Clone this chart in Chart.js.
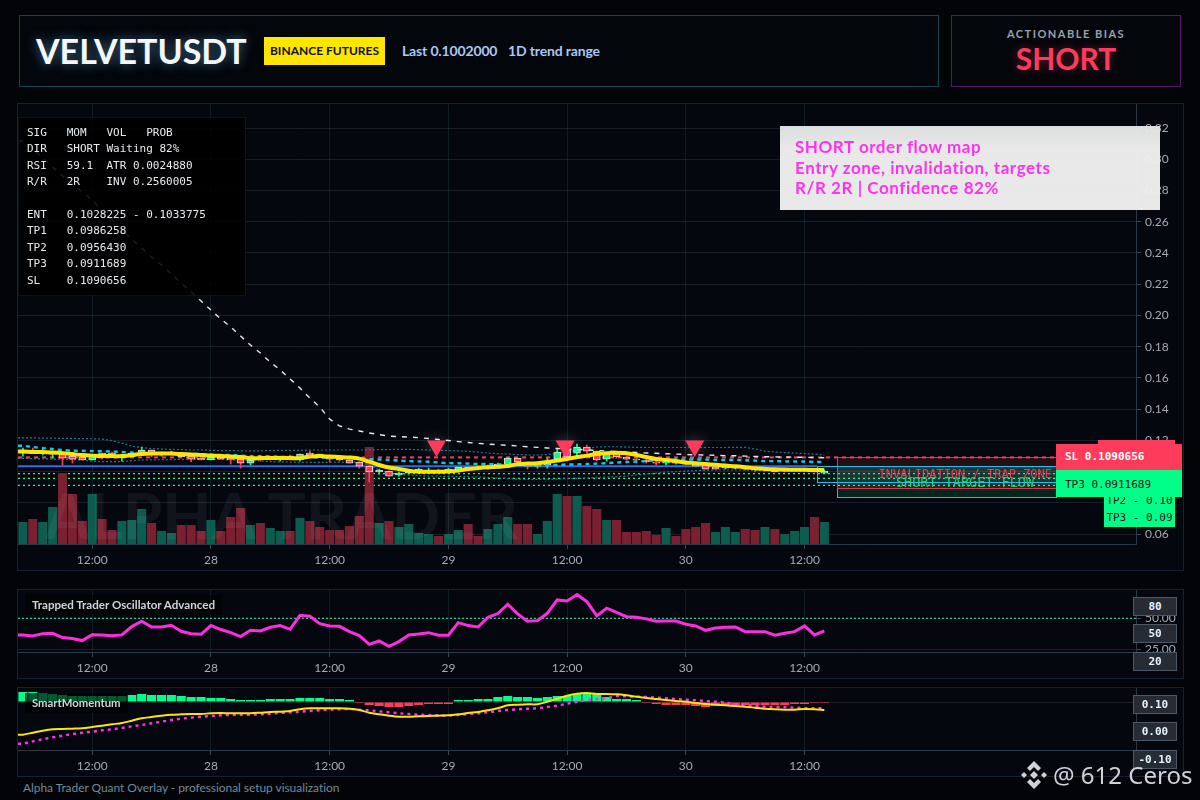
<!DOCTYPE html>
<html>
<head>
<meta charset="utf-8">
<title>VELVETUSDT</title>
<script src="https://cdn.jsdelivr.net/npm/chart.js@4/dist/chart.umd.min.js"></script>
<style>
html, body { margin: 0; background: #020408; }
body { width: 1200px; height: 800px; position: relative; overflow: hidden; font-family: Lato, sans-serif; }
div, pre, canvas, svg { position: absolute; box-sizing: border-box; margin: 0; }
.panel { background: #04070d; border: 1px solid #16222f; }
.mono { font-family: "DejaVu Sans Mono", monospace; white-space: pre; }
.tag { left: 1133px; width: 44px; height: 19px; background: #262b34; border: 1px solid #4d5866; color: #e4f4ff;
  font: bold 11px/17px "DejaVu Sans Mono", monospace; text-align: center; }
</style>
</head>
<body>
<div style="left:19px;top:15px;width:920px;height:72px;border:1px solid #0f4650;background:#03060b"></div>
<div style="left:951px;top:15px;width:230px;height:72px;border:1px solid #561a63;background:#03060b"></div>
<div style="left:36px;top:30px;font-size:34px;font-weight:700;color:#f4f8fc;text-shadow:0 0 12px rgba(120,200,255,.55);white-space:nowrap">VELVETUSDT</div>
<div style="left:264px;top:37px;width:121px;height:28px;background:#ffe600;color:#111;font-size:12px;font-weight:700;line-height:28px;text-align:center;white-space:nowrap">BINANCE FUTURES</div>
<div style="left:402px;top:42px;color:#a9c9f2;font-size:14px;font-weight:700;letter-spacing:-.15px;white-space:nowrap">Last 0.1002000</div>
<div style="left:508px;top:42px;color:#a9c9f2;font-size:14px;font-weight:700;letter-spacing:-.15px;white-space:nowrap">1D trend range</div>
<div style="left:951px;top:27px;width:230px;text-align:center;color:#98a2ad;font-size:11px;font-weight:700;letter-spacing:1.5px">ACTIONABLE BIAS</div>
<div style="left:951px;top:40px;width:230px;text-align:center;color:#ff3b5c;font-size:30px;font-weight:700;text-shadow:0 0 10px rgba(255,60,90,.4)">SHORT</div>

<div class="panel" style="left:17px;top:103px;width:1167px;height:468px"></div>
<div class="panel" style="left:17px;top:589px;width:1167px;height:90px"></div>
<div class="panel" style="left:17px;top:687px;width:1167px;height:90px"></div>

<canvas id="main" width="1166" height="466" style="left:18px;top:104px"></canvas>
<canvas id="osc" width="1166" height="88" style="left:18px;top:590px"></canvas>
<canvas id="mom" width="1166" height="88" style="left:18px;top:688px"></canvas>

<div style="left:18px;top:485px;width:560px;height:59px;overflow:hidden">
  <div style="left:27px;top:-9px;font-size:64px;font-weight:700;color:rgba(255,255,255,.055);white-space:nowrap">ALPHA TRADER</div>
</div>

<pre class="mono" style="left:18px;top:117px;width:228px;height:179px;background:rgba(0,0,0,.88);border:1px solid #0e1318;padding:7px 8px;color:#e6ebef;font-size:11px;line-height:16.4px">SIG   MOM   VOL   PROB
DIR   SHORT Waiting 82%
RSI   59.1  ATR 0.0024880
R/R   2R    INV 0.2560005

ENT   0.1028225 - 0.1033775
TP1   0.0986258
TP2   0.0956430
TP3   0.0911689
SL    0.1090656</pre>

<div style="left:780px;top:126px;width:380px;height:84px;background:linear-gradient(rgba(228,230,230,.96) 0,rgba(240,240,240,.97) 22px);color:#ff33ee;font-size:17px;font-weight:700;letter-spacing:.55px;line-height:20.5px;padding:11px 15px;white-space:nowrap">SHORT order flow map<br>Entry zone, invalidation, targets<br>R/R 2R | Confidence 82%</div>

<div class="mono" style="left:836px;top:465.5px;width:220px;padding-right:4px;text-align:right;color:rgba(255,60,90,.95);font-size:12px;line-height:16px">INVALIDATION / TRAP ZONE</div>
<div class="mono" style="left:836px;top:474px;width:258px;text-align:center;color:rgba(30,220,130,.9);font-size:13.5px;line-height:16px">SHORT TARGET FLOW</div>

<div style="left:1098px;top:440px;width:77px;height:30px;background:#ff3b5c"></div>
<div class="mono" style="left:1104px;top:490px;width:71px;height:37px;background:#00ff88;color:#062018;font-size:11px;line-height:17px;text-align:center;padding-top:2px">TP2 - 0.10
TP3 - 0.09</div>
<div class="mono" style="left:1056px;top:444px;width:126px;height:26px;background:#ff3b5c;color:#fff;font-size:11px;font-weight:700;line-height:26px;padding-left:9px">SL 0.1090656</div>
<div class="mono" style="left:1056px;top:470px;width:126px;height:27px;background:#00ff88;color:#062018;font-size:11px;line-height:30px;padding-left:9px">TP3 0.0911689</div>

<div style="left:25px;top:595px;padding:0 7px;height:20px;line-height:20px;background:rgba(0,0,0,.55);color:#cfd4d8;font-size:11.6px;font-weight:700;white-space:nowrap">Trapped Trader Oscillator Advanced</div>
<div style="left:25px;top:693px;padding:0 7px;height:20px;line-height:20px;background:rgba(0,0,0,.65);color:#cfd4d8;font-size:11.3px;font-weight:700;white-space:nowrap">SmartMomentum</div>

<div class="tag" style="left:1133px;top:597px">80</div>
<div class="tag" style="left:1133px;top:624px">50</div>
<div class="tag" style="left:1133px;top:652px">20</div>
<div class="tag" style="left:1133px;top:695px">0.10</div>
<div class="tag" style="left:1133px;top:722px">0.00</div>
<div class="tag" style="left:1133px;top:750px">-0.10</div>

<div style="left:23px;top:780px;color:#6f8b9b;font-size:12px;letter-spacing:-.06px;white-space:nowrap">Alpha Trader Quant Overlay - professional setup visualization</div>

<svg style="left:1020px;top:760px" width="28" height="30" viewBox="0 0 28 30">
  <g fill="#cfd2d6">
    <path d="M14 1l7 7-3 3-4-4-4 4-3-3z"/>
    <path d="M14 29l7-7-3-3-4 4-4-4-3 3z"/>
    <path d="M1 15l3-3 3 3-3 3z"/>
    <path d="M27 15l-3-3-3 3 3 3z"/>
    <path d="M14 11l4 4-4 4-4-4z"/>
  </g>
</svg>
<div style="left:1053px;top:758px;color:#cfd2d6;font-family:'Noto Sans',sans-serif;font-size:24px;white-space:nowrap">@ 612 Ceros</div>

<script>
// one slot per hour, the right side of the axis stays empty for the zones
const SLOT_COUNT = 113;
const TIME_TICKS = { 7: '12:00', 19: '28', 31: '12:00', 43: '29', 55: '12:00', 67: '30', 79: '12:00' };
const PRICE_TICKS = [0.32, 0.30, 0.28, 0.26, 0.24, 0.22, 0.20, 0.18, 0.16, 0.14, 0.12, 0.10, 0.08, 0.06];
const OSC_TICKS = [50, 25];

const opens = [.1125,.1138,.1118,.1112,.1118,.1099,.1093,.1074,.1118,.1118,.1093,.1093,.1112,.1138,.1112,.1112,.1112,.1099,.1086,.1074,
  .1099,.1086,.1080,.1054,.1086,.1093,.1074,.1099,.1074,.1118,.1112,.1093,.1093,.1074,.1061,.1035,.0997,.1003,.0978,.0990,
  .0997,.0997,.1010,.1003,.1003,.1029,.1016,.1022,.1035,.1048,.1086,.1048,.1035,.1042,.1080,.1138,.1118,.1157,.1131,.1080,
  .1118,.1093,.1080,.1074,.1061,.1054,.1054,.1061,.1054,.1042,.1029,.1022,.1022,.1029,.1016,.1016,.1016,.1016,.1016,.1016,.1016,.0990];
const closes = [.1138,.1125,.1131,.1125,.1086,.1080,.1074,.1099,.1106,.1106,.1106,.1118,.1138,.1112,.1125,.1125,.1093,.1080,.1074,.1093,
  .1080,.1074,.1054,.1074,.1074,.1080,.1093,.1080,.1112,.1106,.1093,.1080,.1074,.1054,.1035,.0997,.1010,.0971,.0990,.1010,
  .1016,.1010,.0997,.1016,.1029,.1016,.1029,.1035,.1048,.1086,.1061,.1035,.1048,.1067,.1125,.1093,.1157,.1131,.1074,.1112,
  .1093,.1080,.1074,.1061,.1054,.1061,.1067,.1048,.1035,.1016,.1016,.1029,.1029,.1016,.1010,.1010,.0997,.1003,.1010,.1010,.0997,.1003];
const highs = [.1150,.1150,.1144,.1131,.1118,.1099,.1093,.1099,.1118,.1125,.1112,.1118,.1157,.1138,.1125,.1131,.1118,.1106,.1093,.1099,
  .1106,.1093,.1080,.1080,.1093,.1099,.1099,.1106,.1112,.1131,.1112,.1099,.1093,.1080,.1061,.1042,.1016,.1003,.0997,.1010,
  .1022,.1022,.1016,.1022,.1029,.1029,.1035,.1042,.1054,.1086,.1086,.1054,.1054,.1086,.1150,.1144,.1176,.1170,.1131,.1118,
  .1118,.1099,.1099,.1086,.1067,.1080,.1080,.1067,.1054,.1042,.1035,.1035,.1035,.1029,.1022,.1022,.1016,.1016,.1016,.1022,.1016,.1010];
const lows = [.1099,.1118,.1106,.1086,.1042,.1054,.1074,.1074,.1080,.1099,.1067,.1093,.1112,.1093,.1099,.1106,.1093,.1061,.1074,.1074,
  .1080,.1048,.1022,.1042,.1067,.1074,.1067,.1074,.1067,.1093,.1093,.1061,.1067,.1054,.1022,.0933,.0984,.0971,.0971,.0984,
  .0990,.0990,.0990,.0997,.0997,.1010,.1010,.1016,.1022,.1042,.1054,.1016,.1022,.1022,.1080,.1086,.1099,.1118,.1067,.1067,
  .1086,.1074,.1054,.1054,.1042,.1042,.1048,.1042,.1035,.1016,.1016,.1016,.1016,.1010,.0997,.1003,.0997,.0997,.1003,.1003,.0997,.0990];

const volumes = [22,25,22,37,71,50,23,50,25,14,23,24,35,21,13,11,19,19,13,24,13,27,36,19,21,16,13,13,26,23,17,14,14,18,28,97,21,23,17,20,
  11,10,8,10,14,20,8,15,20,27,20,20,10,23,50,48,48,38,35,24,24,12,12,13,9,16,8,15,17,21,12,17,12,15,14,17,15,10,13,17,27,22];
const volumeUp = [1,0,1,1,0,0,0,1,0,0,1,1,1,0,1,1,0,0,0,1,0,0,0,1,0,1,1,0,1,0,0,0,0,0,0,0,1,0,1,1,
  1,1,0,1,1,0,0,1,1,1,0,0,1,1,1,0,1,0,0,1,0,0,0,0,0,1,0,0,0,0,1,1,1,0,0,1,0,1,1,1,0,1];

const fastMa = [.1128,.1125,.1125,.1122,.1118,.1112,.1106,.1102,.1099,.1099,.1099,.1106,.1112,.1115,.1115,.1115,.1112,.1109,.1106,.1102,
  .1099,.1096,.1093,.1086,.1086,.1086,.1086,.1086,.1086,.1096,.1099,.1096,.1093,.1090,.1083,.1063,.1042,.1026,.1016,.1006,
  .0999,.0999,.0999,.1000,.1006,.1016,.1022,.1027,.1030,.1035,.1048,.1051,.1054,.1061,.1070,.1080,.1093,.1102,.1112,.1118,
  .1120,.1117,.1106,.1093,.1080,.1074,.1067,.1058,.1054,.1048,.1043,.1038,.1034,.1028,.1021,.1017,.1014,.1013,.1011,.1011,.1010,.1010];
const slowMa = [.1165,.1157,.1150,.1144,.1138,.1134,.1133,.1131,.1130,.1128,.1125,.1122,.1118,.1118,.1116,.1115,.1113,.1112,.1112,.1109,
  .1106,.1106,.1102,.1099,.1099,.1097,.1095,.1093,.1093,.1093,.1091,.1090,.1090,.1086,.1084,.1080,.1077,.1074,.1070,.1067,
  .1065,.1063,.1058,.1054,.1053,.1051,.1048,.1048,.1046,.1045,.1044,.1042,.1042,.1042,.1043,.1045,.1046,.1048,.1051,.1054,
  .1058,.1061,.1064,.1067,.1074,.1074,.1077,.1077,.1077,.1077,.1074,.1074,.1074,.1072,.1070,.1067,.1067,.1065,.1064,.1064,.1061,.1061];
const upperBand = [.1216,.1216,.1214,.1214,.1212,.1212,.1211,.1210,.1208,.1198,.1182,.1163,.1154,.1147,.1144,.1142,.1140,.1138,.1138,.1136,
  .1134,.1134,.1133,.1133,.1133,.1134,.1136,.1136,.1136,.1138,.1138,.1138,.1138,.1138,.1138,.1138,.1140,.1141,.1142,.1142,
  .1140,.1138,.1136,.1134,.1132,.1130,.1125,.1118,.1115,.1112,.1109,.1106,.1106,.1109,.1115,.1125,.1138,.1150,.1157,.1159,
  .1159,.1157,.1155,.1154,.1154,.1154,.1154,.1154,.1154,.1154,.1154,.1154,.1155,.1155,.1144,.1131,.1125,.1122,.1118,.1115,.1112,.1106];
const lowerBand = [.1084,.1083,.1082,.1080,.1079,.1077,.1074,.1067,.1063,.1063,.1063,.1070,.1074,.1075,.1076,.1077,.1078,.1078,.1078,.1078,
  .1078,.1076,.1074,.1070,.1067,.1064,.1062,.1061,.1059,.1059,.1059,.1059,.1061,.1061,.1061,.1042,.1010,.0990,.0978,.0978,
  .0974,.0971,.0970,.0969,.0968,.0967,.0965,.0962,.0958,.0955,.0952,.0950,.0949,.0950,.0952,.0955,.0956,.0958,.0962,.0965,
  .0967,.0971,.0978,.0984,.0990,.0997,.0999,.1003,.1006,.1008,.1010,.1010,.1010,.1010,.1008,.1006,.1005,.1003,.1001,.1000,.0999,.0997];
const trendLine = [.3117,.3066,.3008,.2950,.2893,.2841,.2790,.2739,.2668,.2611,.2553,.2489,.2431,.2374,.2323,.2265,.2207,.2150,.2092,.2034,
  .1977,.1926,.1868,.1810,.1759,.1701,.1650,.1593,.1535,.1471,.1413,.1336,.1292,.1272,.1260,.1247,.1237,.1227,.1224,.1221,
  .1217,.1212,.1205,.1199,.1192,.1186,.1181,.1176,.1172,.1168,.1164,.1159,.1155,.1151,.1148,.1144,.1141,.1138,.1135,.1132,
  .1128,.1125,.1122,.1119,.1117,.1114,.1112,.1109,.1107,.1106,.1104,.1102,.1101,.1099,.1097,.1095,.1094,.1093,.1092,.1091,.1090,.1088];

const signalSlots = [41.8, 54.8, 67.9];
const signalPrices = [.1163, .1163, .1163];

const SL = 0.1090656;
const TP_LEVELS = [0.0986258, 0.0956430, 0.0911689];
const ENTRY = 0.1034;

const oscValues = [36.6,35.8,37.6,37.9,34.4,33.6,32.0,36.8,36.6,36.0,36.6,43.3,47.6,43.0,43.0,44.4,39.5,37.6,37.1,44.1,
  40.9,38.4,35.2,40.3,39.8,42.7,44.1,41.1,52.4,51.6,45.7,43.8,43.5,39.2,36.0,29.0,31.7,27.4,31.2,36.6,
  37.4,38.4,36.3,36.3,46.5,44.1,43.0,50.8,53.8,61.3,53.5,47.6,48.1,54.0,64.8,64.0,69.1,63.4,51.9,58.1,
  54.8,51.3,50.8,49.5,47.6,47.8,47.8,45.2,43.8,40.3,42.2,42.7,43.0,39.2,39.2,39.2,36.3,37.9,39.2,43.8,36.6,39.8];

const momHist = [.010,.010,.009,.008,.007,.006,.006,.006,.006,.006,.006,.007,.008,.007,.007,.007,.006,.005,.005,.004,
  .004,.003,.002,.002,.002,.003,.003,.003,.004,.004,.004,.003,.003,.002,-.001,-.003,-.004,-.005,-.005,-.004,
  -.003,-.002,-.002,-.002,.002,.002,.003,.003,.005,.006,.005,.005,.004,.005,.006,.006,.008,.009,.008,.005,
  .003,.003,.002,-.001,-.002,-.003,-.003,-.003,-.004,-.005,-.004,-.004,-.003,-.003,-.003,-.003,-.003,-.003,-.002,-.002,-.001,-.001];
const momLine = [-.0327,-.0307,-.0287,-.0273,-.027,-.0267,-.0263,-.025,-.0237,-.0223,-.021,-.0187,-.0163,-.015,-.0137,-.0127,-.0123,-.012,-.012,-.0113,
  -.011,-.0113,-.0113,-.0113,-.0107,-.01,-.0097,-.009,-.0073,-.0063,-.0063,-.0063,-.0063,-.0067,-.008,-.0107,-.0123,-.0137,-.0147,-.0147,
  -.0143,-.014,-.0137,-.0133,-.0123,-.011,-.01,-.0083,-.0063,-.0033,-.0027,-.0023,-.0023,.0003,.0033,.0063,.0083,.009,.008,.008,
  .0077,.0067,.0053,.004,.003,.002,.001,.0003,-.001,-.002,-.0027,-.0033,-.004,-.0047,-.0057,-.0067,-.0073,-.0077,-.0077,-.007,-.0073,-.008];
const momSignal = [-.0417,-.0393,-.0373,-.0353,-.0337,-.032,-.0307,-.0297,-.0283,-.0273,-.026,-.0243,-.023,-.0213,-.0197,-.018,-.0167,-.0157,-.0147,-.014,
  -.0133,-.013,-.0127,-.0127,-.0123,-.0117,-.011,-.0103,-.0097,-.009,-.0083,-.0077,-.0073,-.007,-.0077,-.0083,-.0093,-.0103,-.0113,-.012,
  -.0127,-.013,-.0133,-.0137,-.013,-.012,-.0113,-.0103,-.009,-.008,-.0073,-.0067,-.0063,-.005,-.0037,-.0017,.0003,.002,.003,.0037,
  .006,.0057,.0053,.005,.0043,.0037,.003,.0023,.0017,.001,.0003,-.0007,-.002,-.003,-.0037,-.0047,-.005,-.0053,-.0057,-.006,-.0063,-.0063];

const RED = '#ff3b5c';
const GREEN = '#00ff88';
const FONT = { family: 'Lato, sans-serif', size: 12 };
const slots = Array.from({ length: SLOT_COUNT }, (_, i) => TIME_TICKS[i] || '');

function timeAxis() {
  return {
    offset: true,
    border: { color: '#2b3846' },
    grid: { color: 'rgba(70,130,140,.18)', offset: false, tickLength: 5, tickColor: '#3a4755' },
    ticks: {
      color: '#a4acb4', font: FONT, autoSkip: false, maxRotation: 0, padding: 4,
      callback(v) { return TIME_TICKS[v]; }
    },
    afterBuildTicks(s) { s.ticks = s.ticks.filter(t => TIME_TICKS[t.value]); },
    afterFit(s) { s.height = 26; s.paddingLeft = 0; s.paddingRight = 0; }
  };
}

// linear twin of the time axis, lines start at the left edge of the plot
const slotAxis = { type: 'linear', display: false, min: -0.5, max: SLOT_COUNT - 0.5 };

function valueAxis(min, max, ticks, fmt) {
  return {
    position: 'right', min, max,
    border: { color: '#2b3846' },
    grid: { color: 'rgba(120,150,170,.17)', tickLength: 5, tickColor: '#3a4755' },
    ticks: { color: '#a4acb4', font: FONT, padding: 4, callback: fmt },
    afterBuildTicks(s) { s.ticks = ticks.map(value => ({ value })); },
    afterFit(s) { s.width = 48; s.paddingTop = 0; s.paddingBottom = 0; }
  };
}

const basePlugins = { legend: { display: false }, tooltip: { enabled: false } };
const baseLayout = { autoPadding: false, padding: 0 };

function hline(ctx, y, x0, x1, color, width, dash) {
  ctx.beginPath();
  ctx.setLineDash(dash || []);
  ctx.strokeStyle = color;
  ctx.lineWidth = width;
  ctx.moveTo(x0, y);
  ctx.lineTo(x1, y);
  ctx.stroke();
  ctx.setLineDash([]);
}

function box(ctx, xs, ys, v0, v1, i0, i1, fill, stroke) {
  const x0 = Math.round(xs.getPixelForValue(i0)) + 0.5, x1 = Math.round(xs.getPixelForValue(i1)) + 0.5;
  const y0 = Math.round(ys.getPixelForValue(v0)) + 0.5, y1 = Math.round(ys.getPixelForValue(v1)) + 0.5;
  ctx.fillStyle = fill;
  ctx.fillRect(x0, y0, x1 - x0, y1 - y0);
  ctx.strokeStyle = stroke;
  ctx.lineWidth = 1;
  ctx.strokeRect(x0, y0, x1 - x0, y1 - y0);
}

// price levels and the trade zones, all placed through the scales
const zonesPlugin = {
  id: 'zones',
  beforeDatasetsDraw(chart) {
    const { ctx, scales: { x, y } } = chart;
    const left = x.getPixelForValue(-0.5);
    const stop = x.getPixelForValue(104.4);
    ctx.save();
    box(ctx, x, y, 0.1034, 0.0837, 82.25, 104.4, 'rgba(0,255,136,.13)', '#1fd080');
    box(ctx, x, y, SL, 0.0895, 82.25, 104.4, 'rgba(255,59,92,.13)', '#e0344f');
    box(ctx, x, y, ENTRY, 0.0934, 80.3, 104.4, 'rgba(25,197,238,.07)', '#19c5ee');
    hline(ctx, y.getPixelForValue(ENTRY), left, x.getPixelForValue(80.3), '#2a6fe6', 2);
    TP_LEVELS.forEach(v => hline(ctx, y.getPixelForValue(v), left, stop, '#19ff8f', 1.3, [2, 3]));
    hline(ctx, y.getPixelForValue(SL), left, stop, RED, 2, [4, 4]);
    ctx.restore();
  },
  beforeDatasetDraw(chart, args) {
    if (args.meta.type === 'scatter') {
      chart.ctx.save();
      chart.ctx.shadowColor = 'rgba(255,255,255,.28)';
      chart.ctx.shadowBlur = 14;
    }
  },
  afterDatasetDraw(chart, args) {
    if (args.meta.type === 'scatter') chart.ctx.restore();
  }
};

const line = (values, color, width, dash, order, tension) => ({
  type: 'line', xAxisID: 'xt', borderColor: color, borderWidth: width, borderDash: dash || [],
  data: [{ x: -0.5, y: values[0] }, ...values.map((y, x) => ({ x, y }))],
  pointRadius: 0, tension: tension || 0, order, fill: false
});

new Chart(document.getElementById('main'), {
  data: {
    labels: slots,
    datasets: [
      { type: 'bar', yAxisID: 'vol', data: volumes, grouped: false, barPercentage: 0.92, categoryPercentage: 1,
        backgroundColor: volumeUp.map(u => u ? '#0d5c50' : '#7b2030'), order: 20 },
      line(upperBand, '#15808f', 1.2, [2, 2], 9),
      line(lowerBand, '#15808f', 1.2, [2, 2], 9),
      { type: 'bar', data: highs.map((h, i) => [lows[i], h]), grouped: false, barThickness: 1,
        backgroundColor: opens.map((o, i) => closes[i] >= o ? GREEN : RED), order: 8 },
      { type: 'bar', data: opens.map((o, i) => [o, closes[i]]), grouped: false, barThickness: 7,
        backgroundColor: opens.map((o, i) => closes[i] >= o ? GREEN : RED),
        borderColor: 'rgba(255,238,238,.9)', borderWidth: 1, borderSkipped: false, order: 7 },
      line(trendLine, '#e8e8e8', 1.4, [5, 6], 6),
      line(slowMa, '#10c8ee', 2.4, [4, 4], 5, 0.3),
      line(fastMa, '#ffe600', 4, [], 3, 0.3),
      { type: 'scatter', xAxisID: 'xt', data: signalSlots.map((x, i) => ({ x, y: signalPrices[i] })),
        pointStyle: 'triangle', rotation: 180, pointRadius: 11, backgroundColor: RED, borderWidth: 0, order: 1 }
    ]
  },
  options: {
    responsive: false, animation: false, devicePixelRatio: 1,
    layout: baseLayout,
    plugins: basePlugins,
    scales: {
      x: timeAxis(),
      xt: slotAxis,
      y: valueAxis(0.0536, 0.3354, PRICE_TICKS, v => v.toFixed(2)),
      vol: { display: false, min: 0, max: 440 }
    }
  },
  plugins: [zonesPlugin]
});

new Chart(document.getElementById('osc'), {
  data: {
    labels: slots,
    datasets: [line(oscValues, '#ff2ce0', 3, [], 1)]
  },
  options: {
    responsive: false, animation: false, devicePixelRatio: 1,
    layout: baseLayout,
    plugins: basePlugins,
    scales: {
      x: timeAxis(),
      xt: slotAxis,
      y: valueAxis(22.8, 72.8, OSC_TICKS, v => v.toFixed(2))
    }
  },
  plugins: [{
    id: 'mid',
    beforeDatasetsDraw(chart) {
      const { ctx, scales: { y }, chartArea } = chart;
      hline(ctx, y.getPixelForValue(OSC_TICKS[0]), chartArea.left, chartArea.right, '#19ff9f', 1, [2, 2]);
    }
  }]
});

new Chart(document.getElementById('mom'), {
  data: {
    labels: slots,
    datasets: [
      { type: 'bar', data: momHist, grouped: false, barPercentage: 0.92, categoryPercentage: 1,
        backgroundColor: momHist.map(v => v >= 0 ? GREEN : RED), order: 5 },
      line(momSignal, '#ff33ee', 2.4, [3, 4], 3),
      line(momLine, '#ffe600', 2, [], 2, 0.3)
    ]
  },
  options: {
    responsive: false, animation: false, devicePixelRatio: 1,
    layout: baseLayout,
    plugins: basePlugins,
    scales: {
      x: timeAxis(),
      xt: slotAxis,
      y: valueAxis(-0.048, 0.014, [0], () => '')
    }
  }
});
</script>
</body>
</html>
